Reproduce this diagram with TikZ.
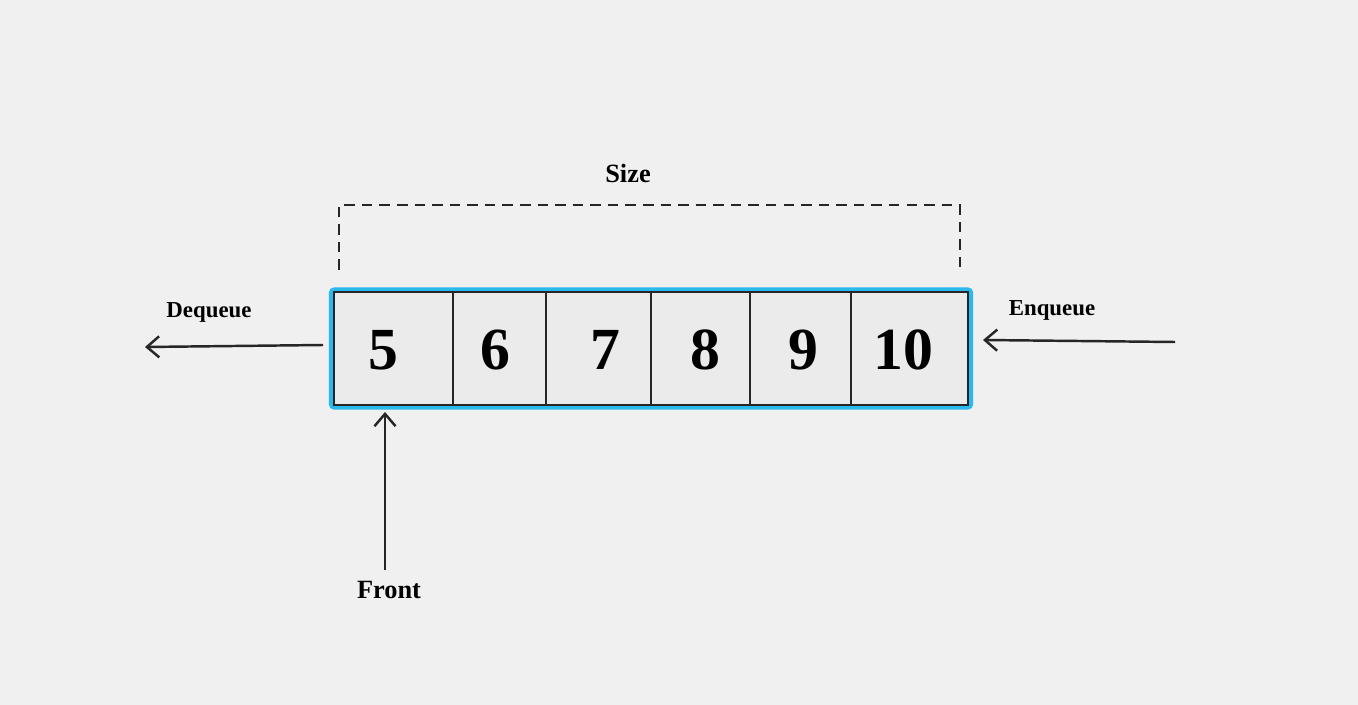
\documentclass[tikz,border=0pt]{standalone}
\usepackage{fontspec}
\setmainfont{Liberation Serif}
\usetikzlibrary{arrows.meta}
\definecolor{bgc}{HTML}{F0F0F0}
\definecolor{qblue}{HTML}{2BB8EC}
\definecolor{cellc}{HTML}{EBEBEB}
\begin{document}
\begin{tikzpicture}[x=0.02cm, y=-0.02cm, >={Straight Barb[length=7pt,width=12pt,line width=1.4pt]}]
    \tikzstyle{num}=[font=\fontsize{34}{36}\selectfont\bfseries]
    \tikzstyle{lbl}=[font=\fontsize{13}{15}\selectfont\bfseries]
    \tikzstyle{arr}=[->, line width=1.4pt, draw=black!85]

    % Fond et cadre
    \fill[bgc] (0,0) rectangle (1358,705);
    \useasboundingbox (0,0) rectangle (1358,705);

    % File
    \node[draw=qblue, line width=2.5pt, rounded corners=2pt, fill=cellc, minimum width=640*0.02cm, minimum height=118*0.02cm, inner sep=0pt] (queue) at (651,348.5) {};
    \draw[line width=1.6pt, black!85] (334,292) rectangle (968,405);
    \foreach \x in {453,546,651,750,851}
      \draw[line width=1.6pt, black!85] (\x,292) -- (\x,405);

    % Valeurs
    \node[num] (c5) at (383,350) {5};
    \node[num] (c6) at (495,350) {6};
    \node[num] (c7) at (605,350) {7};
    \node[num] (c8) at (705,350) {8};
    \node[num] (c9) at (803,350) {9};
    \node[num] (c10) at (903,350) {10};

    % Taille
    \node[lbl, font=\fontsize{15}{17}\selectfont\bfseries] (size) at (628,173) {Size};
    \draw[dashed, line width=1.6pt, dash pattern=on 6pt off 4pt, black!85] (339,270) -- (339,205) -- (960,205) -- (960,270);

    % Opérations
    \node[lbl] (deq) at (209,312) {Dequeue};
    \coordinate (deqend) at (145,347);
    \draw[arr] (323,345) -- (deqend);
    \node[lbl] (enq) at (1052,310) {Enqueue};
    \coordinate (enqstart) at (1175,342);
    \draw[arr] (enqstart) -- (983,340);
    \node[lbl, font=\fontsize{15}{17}\selectfont\bfseries] (front) at (389,590) {Front};
    \draw[arr] (front.north -| 385,0) ++(0,-5) -- (385,412);
\end{tikzpicture}
\end{document}
